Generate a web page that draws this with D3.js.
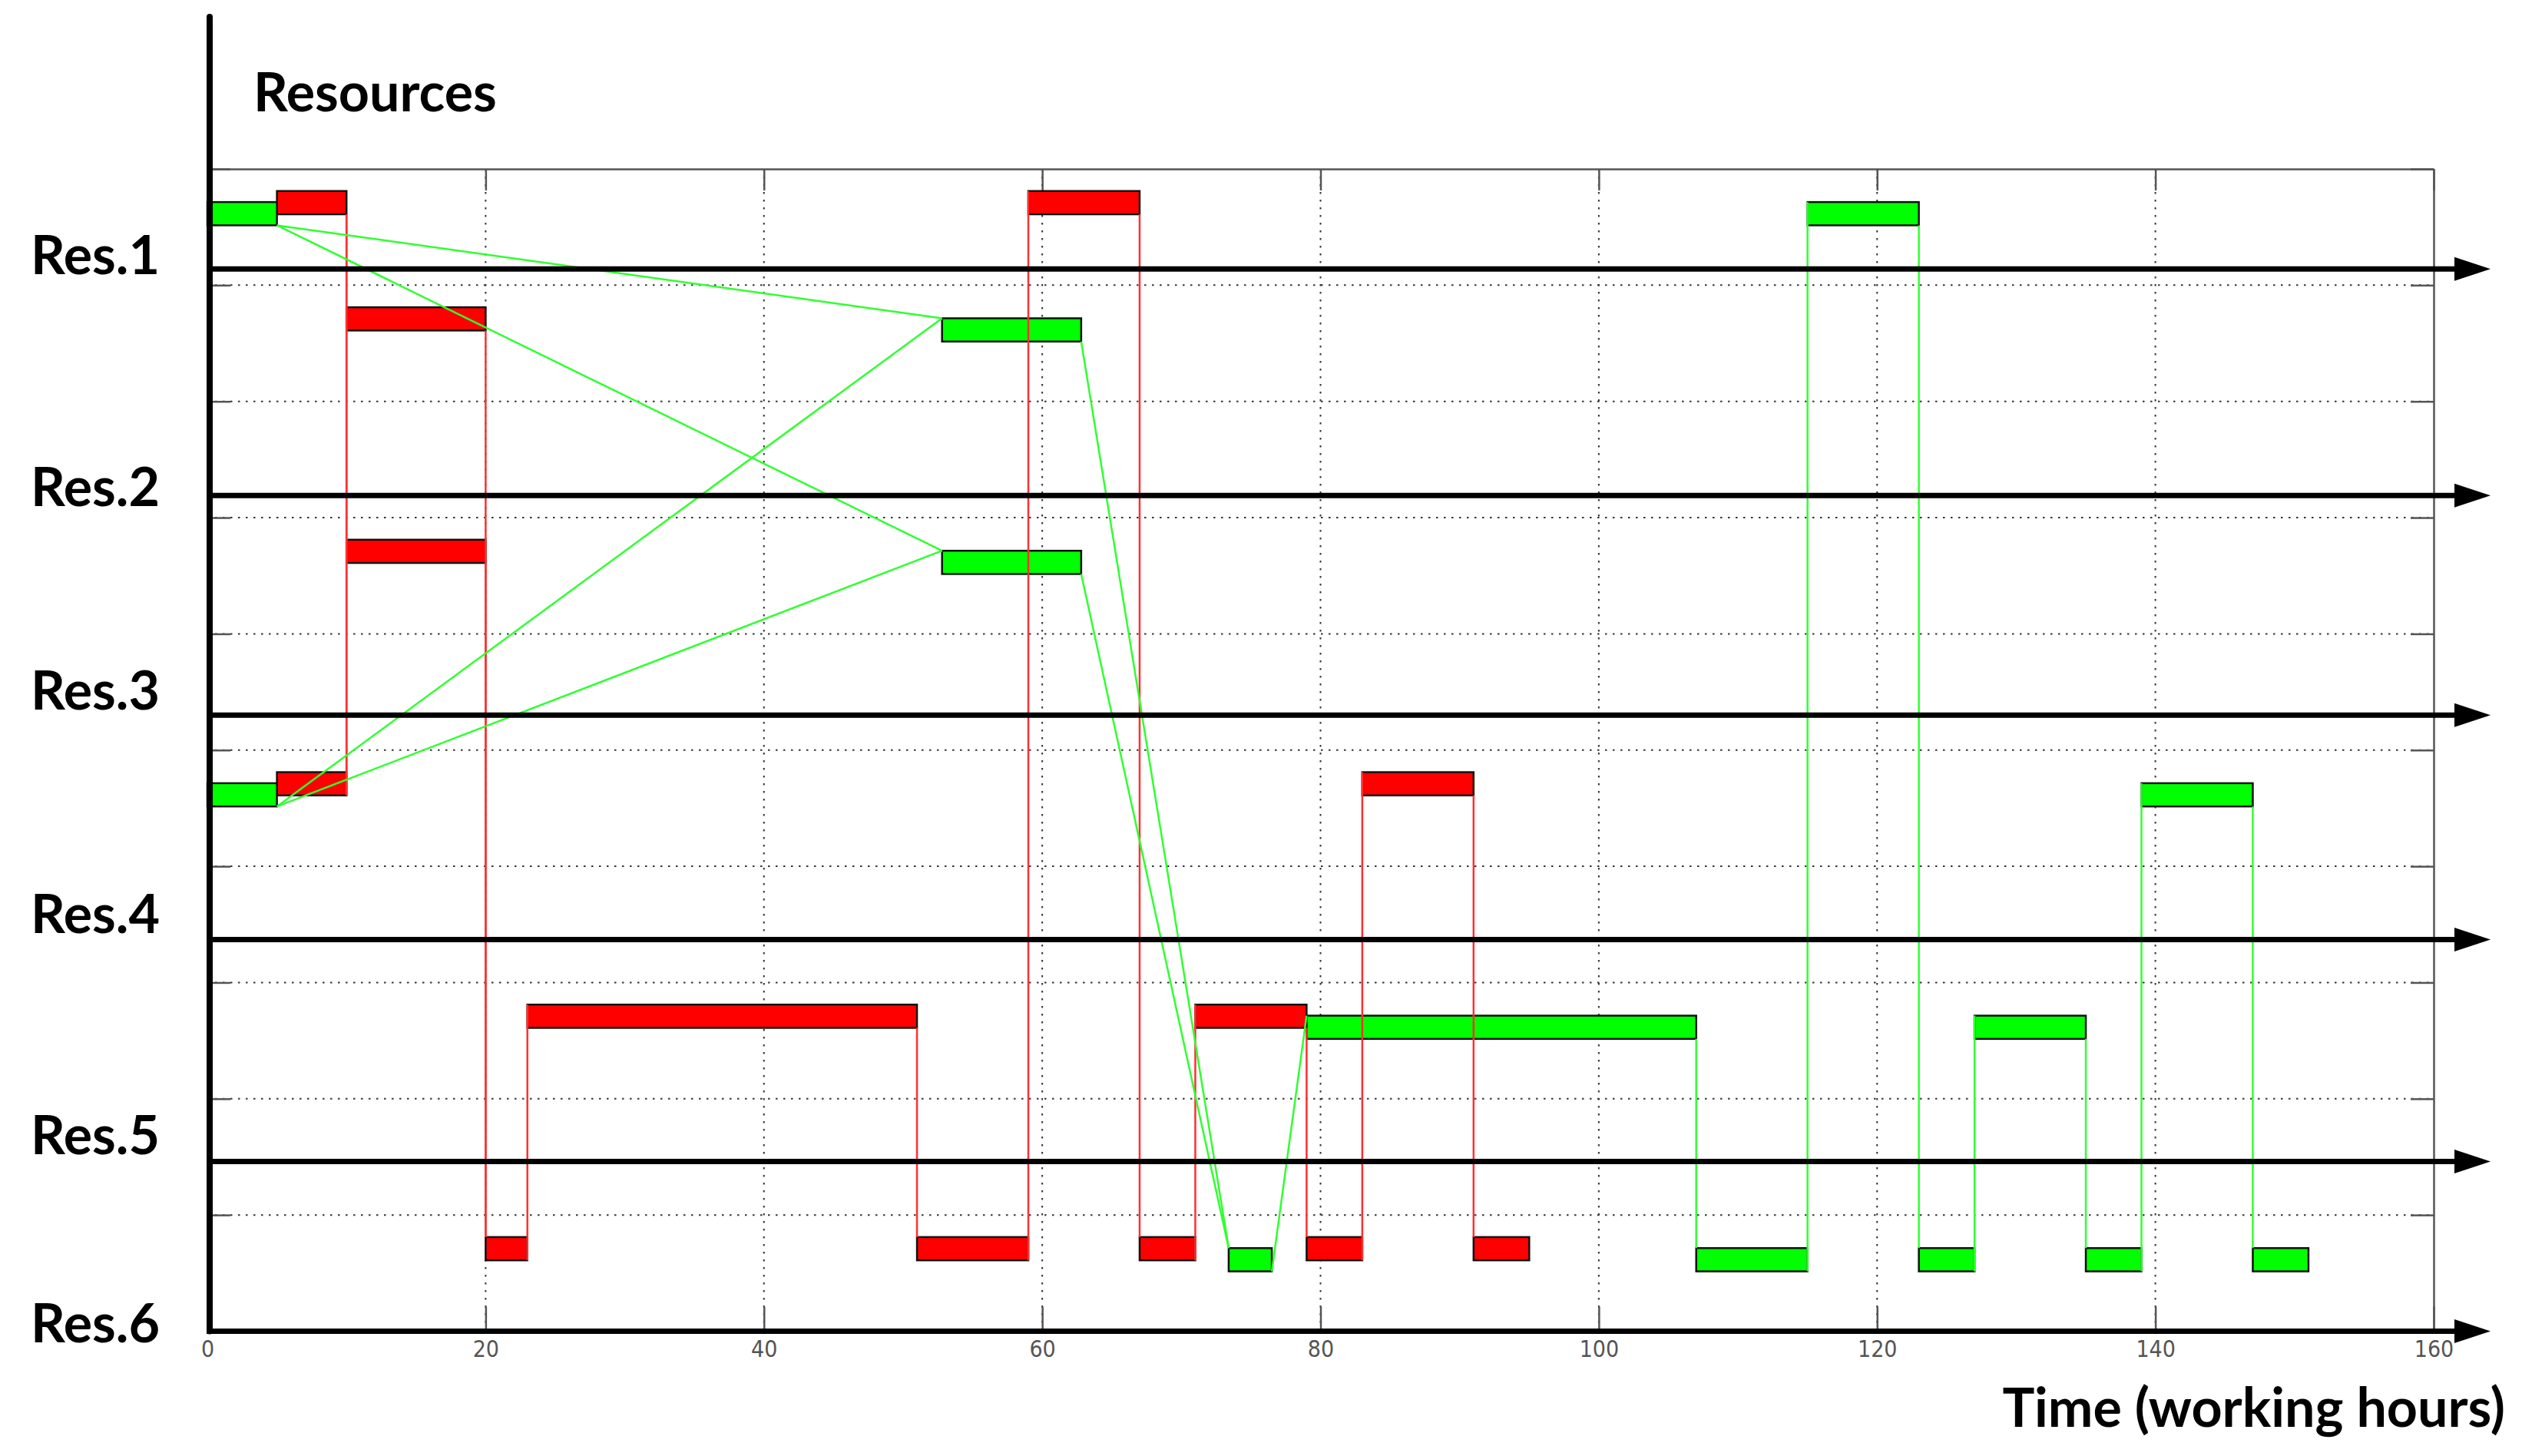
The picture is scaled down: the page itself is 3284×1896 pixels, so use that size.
<!DOCTYPE html>
<html>
<head>
<meta charset="utf-8">
<script src="https://cdn.jsdelivr.net/npm/d3@7"></script>
<style>
  body { margin: 0; background: #fff; }
  .lbl { font-family: Lato, "Open Sans", sans-serif; font-weight: 700; font-size: 70px; fill: #000; }
  .axis text { font-family: "Liberation Sans Narrow", "DejaVu Sans Condensed", sans-serif; font-size: 30px; fill: #555; }
  .axis path, .axis line { stroke: #555; stroke-width: 2.5; }
</style>
</head>
<body>
<div id="chart"></div>
<script>
// time axis (working hours) and row grid
const hourTicks = [0, 20, 40, 60, 80, 100, 120, 140, 160];
const rowTicks = [0, 1, 2, 3, 4, 5, 6, 7, 8, 9, 10];

// resource timelines (black arrows)
const resources = ["Res.1", "Res.2", "Res.3", "Res.4", "Res.5", "Res.6"];
const resourceLevel = [9.14, 7.19, 5.3, 3.37, 1.46, 0];

// red job: row level, start, end (hours)
const redRow   = [9, 4, 8, 6, 0, 2, 0, 9, 0, 2, 0, 4, 0];
const redStart = [5, 5, 10, 10, 20, 23, 51, 59, 67, 71, 79, 83, 91];
const redEnd   = [10, 10, 20, 20, 23, 51, 59, 67, 71, 79, 83, 91, 95];

// green job
const greenRow   = [9, 4, 8, 6, 0, 2, 0, 9, 0, 2, 0, 4, 0];
const greenStart = [0, 0, 52.8, 52.8, 73.4, 79, 107, 115, 123, 127, 135, 139, 147];
const greenEnd   = [5, 5, 62.8, 62.8, 76.5, 107, 115, 123, 127, 135, 139, 147, 151];

// precedence links (task index -> task index), same for both jobs
const links = [[0, 2], [0, 3], [1, 2], [1, 3], [2, 4], [3, 4], [4, 5], [5, 6],
               [6, 7], [7, 8], [8, 9], [9, 10], [10, 11], [11, 12]];

const width = 3284, height = 1896;
const plotLeft = 270, plotRight = 3169, plotTop = 220, plotBottom = 1733.5;

const svg = d3.select("#chart").append("svg")
  .attr("width", width)
  .attr("height", height);

const x = d3.scaleLinear().domain([0, 160]).range([plotLeft, plotRight]);
const y = d3.scaleLinear().domain([0, 10]).range([plotBottom, plotTop]);

// dotted grid
svg.append("g").selectAll("line")
  .data(hourTicks.slice(1, -1))
  .enter().append("line")
  .attr("x1", d => x(d)).attr("x2", d => x(d))
  .attr("y1", plotTop).attr("y2", plotBottom)
  .attr("stroke", "#333").attr("stroke-width", 2)
  .attr("stroke-dasharray", "2.5,7.5");

svg.append("g").selectAll("line")
  .data(rowTicks.slice(1, -1))
  .enter().append("line")
  .attr("x1", plotLeft).attr("x2", plotRight)
  .attr("y1", d => y(d)).attr("y2", d => y(d))
  .attr("stroke", "#333").attr("stroke-width", 2)
  .attr("stroke-dasharray", "2.5,7.5");

// axes with inward ticks (box)
svg.append("g").attr("class", "axis")
  .attr("transform", `translate(0,${plotBottom})`)
  .call(d3.axisBottom(x).tickValues(hourTicks).tickSizeInner(-32).tickSizeOuter(0).tickPadding(12));
svg.append("g").attr("class", "axis")
  .attr("transform", `translate(0,${plotTop})`)
  .call(d3.axisTop(x).tickValues(hourTicks).tickSizeInner(-28).tickSizeOuter(0).tickFormat(""));
svg.append("g").attr("class", "axis")
  .attr("transform", `translate(${plotLeft},0)`)
  .call(d3.axisLeft(y).tickValues(rowTicks).tickSizeInner(-30).tickSizeOuter(0).tickFormat(""));
svg.append("g").attr("class", "axis")
  .attr("transform", `translate(${plotRight},0)`)
  .call(d3.axisRight(y).tickValues(rowTicks).tickSizeInner(-30).tickSizeOuter(0).tickFormat(""));

// build task lists
function tasks(rows, starts, ends) {
  return rows.map((r, i) => ({ row: r, start: starts[i], end: ends[i] }));
}
const jobs = [
  { fill: "#ff0000", link: "#ff3030", off: 0.71, list: tasks(redRow, redStart, redEnd) },
  { fill: "#00ff00", link: "#30ff30", off: 0.615, list: tasks(greenRow, greenStart, greenEnd) }
];
const half = 0.1;

// bars
jobs.forEach(job => {
  svg.append("g").selectAll("rect")
    .data(job.list)
    .enter().append("rect")
    .attr("x", d => x(d.start))
    .attr("y", d => y(d.row + job.off + half))
    .attr("width", d => x(d.end) - x(d.start))
    .attr("height", d => y(d.row + job.off - half) - y(d.row + job.off + half))
    .attr("fill", job.fill)
    .attr("stroke", "#111")
    .attr("stroke-width", 2.5);
});

// connectors: bottom-right of predecessor to top-left of successor
jobs.forEach(job => {
  svg.append("g").selectAll("line")
    .data(links)
    .enter().append("line")
    .attr("x1", d => x(job.list[d[0]].end))
    .attr("y1", d => y(job.list[d[0]].row + job.off - half))
    .attr("x2", d => x(job.list[d[1]].start))
    .attr("y2", d => y(job.list[d[1]].row + job.off + half))
    .attr("stroke", job.link)
    .attr("stroke-width", 2.5);
});

// resource arrows
const arrows = svg.append("g");
arrows.selectAll("line")
  .data(resourceLevel)
  .enter().append("line")
  .attr("x1", plotLeft - 1).attr("x2", 3200)
  .attr("y1", d => y(d)).attr("y2", d => y(d))
  .attr("stroke", "#000").attr("stroke-width", 7);
arrows.selectAll("path")
  .data(resourceLevel)
  .enter().append("path")
  .attr("d", d => `M3196,${y(d) - 15.5}L3243,${y(d)}L3196,${y(d) + 15.5}Z`)
  .attr("fill", "#000");

// vertical resource axis
svg.append("line")
  .attr("x1", 273).attr("x2", 273)
  .attr("y1", 22).attr("y2", plotBottom)
  .attr("stroke", "#000").attr("stroke-width", 8)
  .attr("stroke-linecap", "round");

// labels
const labelBaseline = [357, 659, 924, 1215, 1503, 1748];
svg.append("g").selectAll("text")
  .data(resources)
  .enter().append("text")
  .attr("class", "lbl")
  .attr("x", 40)
  .attr("y", (d, i) => labelBaseline[i])
  .text(d => d);

svg.append("text").attr("class", "lbl")
  .attr("x", 330).attr("y", 145)
  .text("Resources");

svg.append("text").attr("class", "lbl")
  .attr("x", 3262).attr("y", 1858)
  .attr("text-anchor", "end")
  .text("Time (working hours)");
</script>
</body>
</html>
